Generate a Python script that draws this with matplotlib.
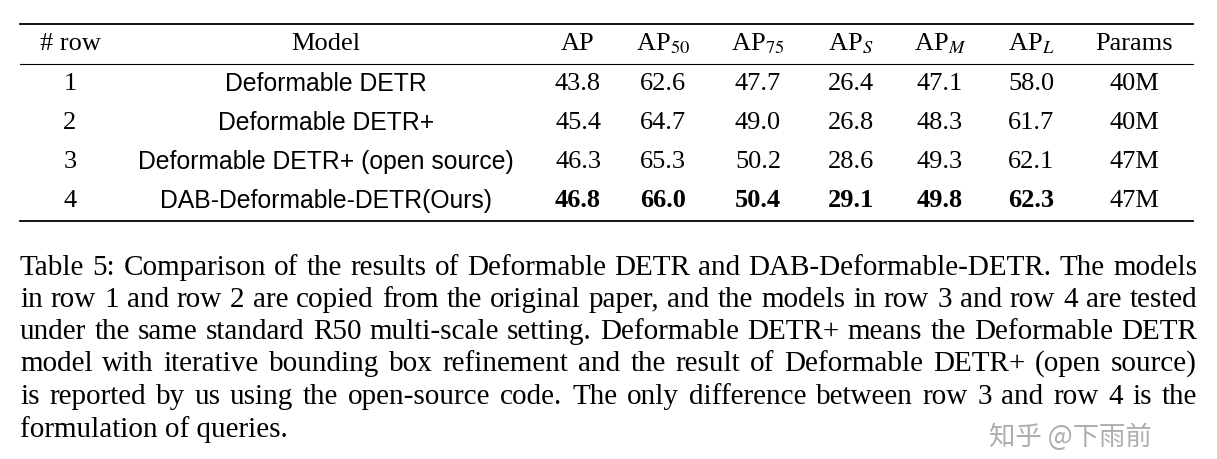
import matplotlib
matplotlib.use("Agg")
import matplotlib.pyplot as plt

plt.rcParams['mathtext.fontset'] = 'stix'
SERIF = ['Liberation Serif', 'DejaVu Serif']
SANS = ['Liberation Sans', 'DejaVu Sans']

headers = ['# row', 'Model', 'AP', r'AP$_{50}$', r'AP$_{75}$', r'AP$_{S}$', r'AP$_{M}$', r'AP$_{L}$', 'Params']
rows = ['1', '2', '3', '4']
models = ['Deformable DETR', 'Deformable DETR+', 'Deformable DETR+ (open source)', 'DAB-Deformable-DETR(Ours)']
ap = ['43.8', '45.4', '46.3', '46.8']
ap50 = ['62.6', '64.7', '65.3', '66.0']
ap75 = ['47.7', '49.0', '50.2', '50.4']
aps = ['26.4', '26.8', '28.6', '29.1']
apm = ['47.1', '48.3', '49.3', '49.8']
apl = ['58.0', '61.7', '62.1', '62.3']
params = ['40M', '40M', '47M', '47M']
bold_row = 3
caption = [
    "Table 5: Comparison of the results of Deformable DETR and DAB-Deformable-DETR. The models",
    "in row 1 and row 2 are copied from the original paper, and the models in row 3 and row 4 are tested",
    "under the same standard R50 multi-scale setting. Deformable DETR+ means the Deformable DETR",
    "model with iterative bounding box refinement and the result of Deformable DETR+ (open source)",
    "is reported by us using the open-source code. The only difference between row 3 and row 4 is the",
    "formulation of queries.",
]

W, H = 1217, 460
fig = plt.figure(figsize=(W/100, H/100), dpi=100)
ax = fig.add_axes([0, 0, 1, 1])
ax.set_xlim(0, W); ax.set_ylim(H, 0); ax.axis('off')

xs = [70, 326, 578, 663, 758, 851, 940, 1031, 1134]
fs = 19
for x, h in zip(xs, headers):
    ax.text(x, 44, h, ha='center', va='center', fontsize=fs, family=SERIF)
for y, lw in [(25, 1.3), (65, 0.8), (222, 1.3)]:
    ax.plot([20, 1193], [y, y], color='black', lw=lw)
ys = [84, 123, 162, 201]
cols = [ap, ap50, ap75, aps, apm, apl]
for i, y in enumerate(ys):
    ax.text(xs[0], y, rows[i], ha='center', va='center', fontsize=fs, family=SERIF)
    ax.text(xs[1], y, models[i], ha='center', va='center', fontsize=17.8, family=SANS)
    for j, c in enumerate(cols):
        ax.text(xs[2+j], y, c[i], ha='center', va='center', fontsize=fs, family=SERIF,
                fontweight='bold' if i == bold_row else 'normal')
    ax.text(xs[8], y, params[i], ha='center', va='center', fontsize=fs, family=SERIF)

fig.canvas.draw()
r = fig.canvas.get_renderer()
left, right = 20, 1197
cfs = 21
cys = [268, 300, 332, 364, 397, 430]
for k, (line, y) in enumerate(zip(caption, cys)):
    if k == len(caption) - 1:
        ax.text(left, y, line, ha='left', va='center', fontsize=cfs, family=SERIF)
        continue
    words = line.split(' ')
    widths = []
    for w in words:
        t = ax.text(0, 0, w, fontsize=cfs, family=SERIF)
        widths.append(t.get_window_extent(r).width)
        t.remove()
    gap = (right - left - sum(widths)) / (len(words) - 1)
    x = left
    for w, wd in zip(words, widths):
        ax.text(x, y, w, ha='left', va='center', fontsize=cfs, family=SERIF)
        x += wd + gap

ax.text(1070, 437, '知乎 @下雨前', ha='center', va='center', fontsize=19,
        family=['Noto Sans CJK SC', 'DejaVu Sans'], color='#999999', alpha=0.8)

fig.savefig('out.png', dpi=100)
